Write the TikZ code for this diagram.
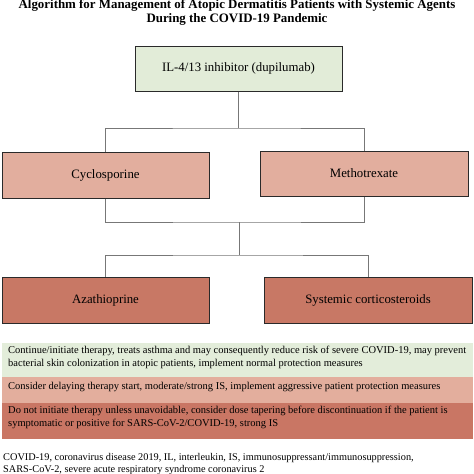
\documentclass[tikz,border=0pt]{standalone}
\usepackage{fontspec}
\setmainfont{Liberation Serif}
\definecolor{boxgreen}{HTML}{E2ECD8}
\definecolor{boxsalmon}{HTML}{E2AE9E}
\definecolor{boxred}{HTML}{C87865}
\definecolor{bandgreen}{HTML}{E3EDDA}
\definecolor{bandsalmon}{HTML}{E3AE9D}
\definecolor{bandred}{HTML}{C97664}
\definecolor{connclr}{HTML}{777777}
\definecolor{borderclr}{HTML}{2A2A2A}
\begin{document}
\begin{tikzpicture}[x=1pt,y=1pt,
  drugbox/.style={draw=borderclr, line width=1pt, minimum height=45pt, minimum width=207pt, inner sep=0pt, font=\fontsize{12.8}{15}\selectfont},
  conn/.style={draw=connclr, line width=0.9pt},
  titletext/.style={anchor=base, inner sep=0pt, font=\bfseries\fontsize{12.9}{15}\selectfont},
  bandtext/.style={anchor=base west, inner sep=0pt, font=\fontsize{10.5}{13}\selectfont},
  foottext/.style={anchor=base west, inner sep=0pt, font=\fontsize{10.3}{12.5}\selectfont}]
\useasboundingbox (0,0) rectangle (474,-474);
\fill[white] (0,0) rectangle (474,-474);

% title
\node[titletext] (title1) at (237,-8) {Algorithm for Management of Atopic Dermatitis Patients with Systemic Agents};
\node[titletext] (title2) at (237,-22) {During the COVID-19 Pandemic};

% drug boxes
\node[drugbox, fill=boxgreen] (il) at (238.5,-68.5) {IL-4/13 inhibitor (dupilumab)};
\node[drugbox, fill=boxsalmon, minimum height=46pt] (cyc) at (105.5,-175) {Cyclosporine};
\node[drugbox, fill=boxsalmon, minimum width=208pt] (met) at (364,-173.5) {Methotrexate};
\node[drugbox, fill=boxred, minimum height=46pt] (aza) at (105.5,-300) {Azathioprine};
\node[drugbox, fill=boxred, minimum height=46pt, minimum width=208pt] (sys) at (368,-300) {Systemic corticosteroids};

% junctions
\coordinate (j1) at (238.5,-128);
\coordinate (j2) at (239,-222);
\coordinate (j3) at (239,-255);

% connectors
\draw[conn] (il.south) -- (j1);
\draw[conn] (cyc.north) |- (j1) -| (met.north);
\draw[conn] (cyc.south) |- (j2) -| (met.south);
\draw[conn] (j2) -- (j3);
\draw[conn] (aza.north) |- (j3) -| (sys.north);

% bands
\fill[bandgreen] (2,-343) rectangle (473,-377);
\fill[bandsalmon] (2,-377) rectangle (473,-403);
\fill[bandred] (2,-403) rectangle (473,-439);

\node[bandtext] (g1) at (8,-353) {Continue/initiate therapy, treats asthma and may consequently reduce risk of severe COVID-19, may prevent};
\node[bandtext] (g2) at (8,-366.5) {bacterial skin colonization in atopic patients, implement normal protection measures};
\node[bandtext] (s1) at (8,-389.5) {Consider delaying therapy start, moderate/strong IS, implement aggressive patient protection measures};
\node[bandtext] (r1) at (8,-413) {Do not initiate therapy unless unavoidable, consider dose tapering before discontinuation if the patient is};
\node[bandtext] (r2) at (8,-426.5) {symptomatic or positive for SARS-CoV-2/COVID-19, strong IS};

% footnote
\node[foottext] (f1) at (3,-460) {COVID-19, coronavirus disease 2019, IL, interleukin, IS, immunosuppressant/immunosuppression,};
\node[foottext] (f2) at (3,-472.5) {SARS-CoV-2, severe acute respiratory syndrome coronavirus 2};
\end{tikzpicture}
\end{document}
